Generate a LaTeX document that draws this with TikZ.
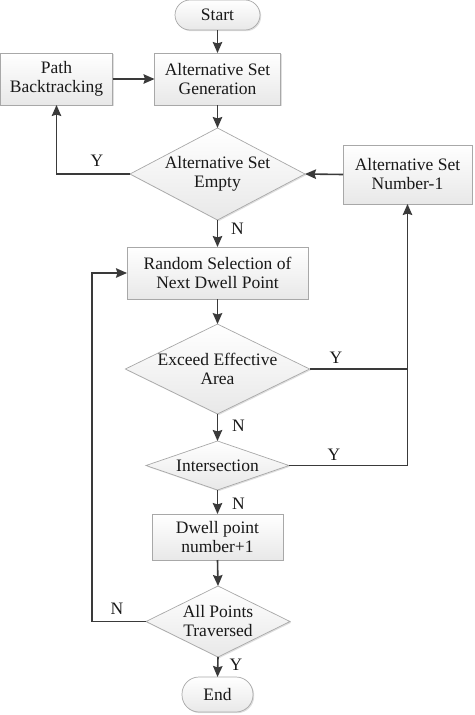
\documentclass[tikz,border=0pt]{standalone}
\usepackage{fontspec}
\setmainfont{Liberation Serif}
\usetikzlibrary{arrows.meta,shapes.geometric,shadows}
\definecolor{lineC}{HTML}{3A3A3A}
\definecolor{edgeC}{HTML}{A8A8A8}
\tikzset{
  base/.style={draw=edgeC, line width=0.7pt, top color=white, bottom color=black!9,
    drop shadow={shadow xshift=1.2pt, shadow yshift=-1.2pt, opacity=0.25},
    font=\fontsize{17.5}{19}\selectfont, align=center, inner sep=0pt, outer sep=0pt, text=black!90},
  procbox/.style={base, rectangle},
  termbox/.style={base, rectangle, rounded corners=15pt},
  decbox/.style={base, diamond},
  conn/.style={draw=lineC, line width=1.6pt, -{Stealth[length=11pt,width=9.5pt,inset=1.5pt]}},
  plain/.style={draw=lineC, line width=1.6pt},
  lab/.style={font=\fontsize{17.5}{19}\selectfont, text=black!90, inner sep=0pt}
}
\begin{document}
\begin{tikzpicture}[x=1pt,y=-1pt]
\useasboundingbox (0,0) rectangle (474,715);
\node[termbox, minimum width=85pt, minimum height=30pt] (start) at (217.5,15) {Start};
\node[procbox, minimum width=126pt, minimum height=52pt] (gen) at (217.5,79) {Alternative Set\\Generation};
\node[procbox, minimum width=112pt, minimum height=52pt] (back) at (56.5,79) {Path\\Backtracking};
\node[decbox, minimum width=175pt, minimum height=92pt, shape aspect=1.9] (empty) at (217.5,174) {Alternative Set\\Empty};
\node[procbox, minimum width=129pt, minimum height=59pt] (num) at (407.5,174.5) {Alternative Set\\Number-1};
\node[procbox, minimum width=181pt, minimum height=52pt] (rand) at (217.5,273) {Random Selection of\\Next Dwell Point};
\node[decbox, minimum width=181pt, minimum height=88pt, shape aspect=2.05] (exceed) at (217.5,369) {Exceed Effective\\Area};
\node[decbox, minimum width=143pt, minimum height=49pt, shape aspect=2.9] (inter) at (217.5,465.5) {Intersection};
\node[procbox, minimum width=131pt, minimum height=46pt] (dwell) at (217.5,537) {Dwell point\\number+1};
\node[decbox, minimum width=144pt, minimum height=71pt, shape aspect=2.0] (all) at (218,621.5) {All Points\\Traversed};
\node[termbox, minimum width=71pt, minimum height=35pt, rounded corners=17pt] (end) at (217.5,694.5) {End};

\coordinate (joinE) at (407.5,369);
\coordinate (loopL) at (92,621.5);

\draw[conn] (start.south) -- (gen.north);
\draw[conn] (back.east) -- (gen.west);
\draw[conn] (gen.south) -- (empty.north);
\draw[conn] (empty.west) -| (back.south);
\draw[conn] (num.west) -- (empty.east);
\draw[conn] (empty.south) -- (rand.north);
\draw[conn] (rand.south) -- (exceed.north);
\draw[plain] (exceed.east) -- (joinE);
\draw[conn] (inter.east) -| (num.south);
\draw[conn] (exceed.south) -- (inter.north);
\draw[conn] (inter.south) -- (dwell.north);
\draw[conn] (dwell.south) -- (all.north);
\draw[conn] (all.west) -- (loopL) |- (rand.west);
\draw[conn] (all.south) -- (end.north);

\node[lab] (ly1) at (97,161) {Y};
\node[lab] (ln1) at (237.5,229) {N};
\node[lab] (ly2) at (336,358) {Y};
\node[lab] (ln2) at (238.5,426) {N};
\node[lab] (ly3) at (334,455) {Y};
\node[lab] (ln3) at (238.5,504) {N};
\node[lab] (ln4) at (117,609) {N};
\node[lab] (ly4) at (236,665) {Y};
\end{tikzpicture}
\end{document}
